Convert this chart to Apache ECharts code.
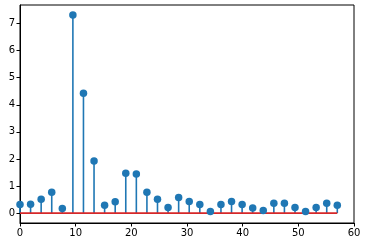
<!DOCTYPE html>
<html><head><meta charset="utf-8">
<script src="https://cdn.jsdelivr.net/npm/echarts@6/dist/echarts.min.js"></script>
<style>html,body{margin:0;padding:0;background:#fff}#c{width:368px;height:248px}</style>
</head><body><div id="c"></div>
<script>
const xValues = [0,1.9,3.8,5.7,7.6,9.5,11.4,13.3,15.2,17.1,19,20.9,22.8,24.7,26.6,28.5,30.4,32.3,34.2,36.1,38,39.9,41.8,43.7,45.6,47.5,49.4,51.3,53.2,55.1,57];
const yValues = [0.32,0.33,0.51,0.77,0.17,7.32,4.43,1.92,0.29,0.42,1.47,1.44,0.77,0.51,0.21,0.58,0.43,0.32,0.06,0.32,0.43,0.32,0.19,0.10,0.36,0.36,0.21,0.06,0.21,0.36,0.29];
const xTicks = [0,10,20,30,40,50,60];
const yTicks = [0,1,2,3,4,5,6,7];
const baseline = [[xValues[0],0],[xValues[xValues.length-1],0]];

const pts = xValues.map((x,i)=>[x,yValues[i]]);
const font = {fontFamily:'DejaVu Sans',fontSize:10,color:'#000'};
const chart = echarts.init(document.getElementById('c'),null,{renderer:'canvas'});
chart.setOption({
  animation:false,
  grid:{left:20,right:14,top:5,bottom:25,show:true,borderColor:'#000',borderWidth:1,backgroundColor:'transparent'},
  xAxis:{type:'value',min:0,max:60,interval:10,
    axisLine:{onZero:false,lineStyle:{color:'#000',width:1}},
    axisTick:{show:true,length:3.5,lineStyle:{color:'#000'}},
    axisLabel:Object.assign({margin:5,customValues:xTicks},font),
    splitLine:{show:false}},
  yAxis:{type:'value',min:-0.366,max:7.686,
    axisLine:{onZero:false,lineStyle:{color:'#000',width:1}},
    axisTick:{show:true,length:3.5,customValues:yTicks,lineStyle:{color:'#000'}},
    axisLabel:Object.assign({margin:5,customValues:yTicks},font),
    splitLine:{show:false}},
  series:[
    {type:'custom',data:pts,z:2,renderItem:function(params,api){
      const p0=api.coord([api.value(0),0]);const p1=api.coord([api.value(0),api.value(1)]);
      return {type:'line',shape:{x1:p0[0],y1:p0[1],x2:p1[0],y2:p1[1]},style:{stroke:'#1f77b4',lineWidth:1.6}};
    }},
    {type:'line',data:baseline,symbol:'none',z:3,lineStyle:{color:'#d62728',width:1.6}},
    {type:'scatter',data:pts,symbol:'circle',symbolSize:7.5,z:4,itemStyle:{color:'#1f77b4',opacity:1}}
  ]
});
</script></body></html>
